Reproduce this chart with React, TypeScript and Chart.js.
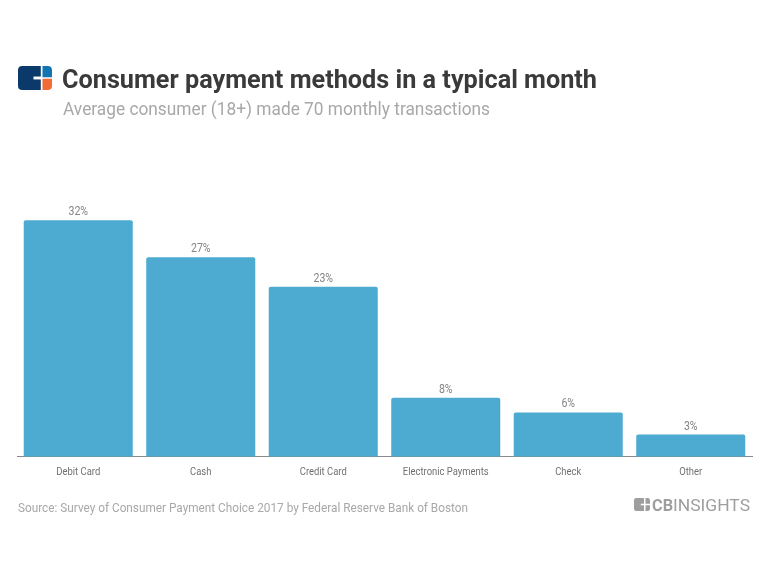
import React, { useEffect, useRef } from "react";
import { Chart, registerables } from "chart.js";

Chart.register(...registerables);

const categories = ["Debit Card", "Cash", "Credit Card", "Electronic Payments", "Check", "Other"];
const shares = [32, 27, 23, 8, 6, 3];

const TITLE = "Consumer payment methods in a typical month";
const SUBTITLE = "Average consumer (18+) made 70 monthly transactions";
const SOURCE = "Source: Survey of Consumer Payment Choice 2017 by Federal Reserve Bank of Boston";

const FONT = "Roboto, 'Noto Sans', sans-serif";

// Draws text squeezed horizontally; if targetWidth is set, the text is scaled to that width.
function drawNarrow(
  ctx: CanvasRenderingContext2D,
  text: string,
  x: number,
  y: number,
  font: string,
  color: string,
  align: CanvasTextAlign,
  sx: number,
  targetWidth?: number
) {
  ctx.save();
  ctx.font = font;
  ctx.fillStyle = color;
  ctx.textBaseline = "alphabetic";
  ctx.textAlign = align;
  let s = sx;
  if (targetWidth) s = targetWidth / ctx.measureText(text).width;
  ctx.translate(x, y);
  ctx.scale(s, 1);
  ctx.fillText(text, 0, 0);
  ctx.restore();
}

function roundRect(ctx: CanvasRenderingContext2D, x: number, y: number, w: number, h: number, r: number) {
  ctx.beginPath();
  ctx.moveTo(x + r, y);
  ctx.lineTo(x + w - r, y);
  ctx.quadraticCurveTo(x + w, y, x + w, y + r);
  ctx.lineTo(x + w, y + h - r);
  ctx.quadraticCurveTo(x + w, y + h, x + w - r, y + h);
  ctx.lineTo(x + r, y + h);
  ctx.quadraticCurveTo(x, y + h, x, y + h - r);
  ctx.lineTo(x, y + r);
  ctx.quadraticCurveTo(x, y, x + r, y);
  ctx.closePath();
}

// Brand mark: left block with a notch, right column split in two squares.
function drawMark(
  ctx: CanvasRenderingContext2D,
  x: number,
  y: number,
  w: number,
  h: number,
  main: string,
  topRight: string,
  bottomRight: string
) {
  const colW = w * 0.28;
  const gap = Math.max(1.5, w * 0.05);
  const leftW = w - colW - gap;
  const r = h * 0.18;
  ctx.save();
  ctx.fillStyle = main;
  roundRect(ctx, x, y, leftW + r, h, r);
  ctx.fill();
  // notch
  ctx.fillStyle = "#ffffff";
  const notchH = h * 0.12;
  ctx.fillRect(x + leftW * 0.68, y + h / 2 - notchH / 2, leftW * 0.32 + r + 1, notchH);
  ctx.fillRect(x + leftW, y - 1, gap + r, h + 2);
  const cx = x + leftW + gap;
  const halfH = (h - gap) / 2;
  ctx.fillStyle = topRight;
  ctx.beginPath();
  ctx.moveTo(cx, y);
  ctx.lineTo(cx + colW - r, y);
  ctx.quadraticCurveTo(cx + colW, y, cx + colW, y + r);
  ctx.lineTo(cx + colW, y + halfH);
  ctx.lineTo(cx, y + halfH);
  ctx.closePath();
  ctx.fill();
  ctx.fillStyle = bottomRight;
  ctx.beginPath();
  ctx.moveTo(cx, y + halfH + gap);
  ctx.lineTo(cx + colW, y + halfH + gap);
  ctx.lineTo(cx + colW, y + h - r);
  ctx.quadraticCurveTo(cx + colW, y + h, cx + colW - r, y + h);
  ctx.lineTo(cx, y + h);
  ctx.closePath();
  ctx.fill();
  ctx.restore();
}

const decorations = {
  id: "decorations",
  beforeDraw(chart: Chart) {
    const ctx = chart.ctx;
    ctx.save();
    ctx.fillStyle = "#ffffff";
    ctx.fillRect(0, 0, chart.width, chart.height);
    ctx.restore();

    drawMark(ctx, 18, 66, 34, 24, "#0b3a6a", "#1075b2", "#f26a36");
    drawNarrow(ctx, TITLE, 62, 88, `bold 26px ${FONT}`, "#3a3a3a", "left", 1, 535);
    drawNarrow(ctx, SUBTITLE, 63, 115, `18px ${FONT}`, "#a8a8a8", "left", 1, 427);
    drawNarrow(ctx, SOURCE, 18, 512, `13px ${FONT}`, "#a8a8a8", "left", 1, 450);

    // footer brand
    drawMark(ctx, 634, 498, 16, 13, "#9e9e9e", "#9e9e9e", "#9e9e9e");
    drawNarrow(ctx, "CB", 652, 511, `bold 17px ${FONT}`, "#9e9e9e", "left", 1, 21);
    drawNarrow(ctx, "INSIGHTS", 673, 511, `17px ${FONT}`, "#9e9e9e", "left", 1, 77);
  },
  afterDatasetsDraw(chart: Chart) {
    const ctx = chart.ctx;
    const meta = chart.getDatasetMeta(0);
    const xScale = chart.scales.x;
    meta.data.forEach((bar: any, i: number) => {
      drawNarrow(ctx, `${shares[i]}%`, bar.x, bar.y - 5, `12px ${FONT}`, "#858585", "center", 0.88);
    });
    categories.forEach((c, i) => {
      const x = xScale.getPixelForTick(i);
      drawNarrow(ctx, c, x, chart.chartArea.bottom + 18, `11.5px ${FONT}`, "#707070", "center", 0.82);
    });
  },
};

export default function App() {
  const ref = useRef<HTMLCanvasElement | null>(null);

  useEffect(() => {
    if (!ref.current) return;
    const chart = new Chart(ref.current, {
      type: "bar",
      data: {
        labels: categories,
        datasets: [
          {
            data: shares,
            backgroundColor: "#4daad1",
            borderRadius: { topLeft: 2, topRight: 2, bottomLeft: 0, bottomRight: 0 },
            borderSkipped: "bottom",
            categoryPercentage: 1,
            barPercentage: 0.89,
          },
        ],
      },
      options: {
        responsive: false,
        animation: false,
        layout: { padding: { left: 17, right: 16, top: 198, bottom: 84 } },
        plugins: { legend: { display: false }, tooltip: { enabled: false } },
        scales: {
          x: {
            grid: { display: false },
            border: { display: true, color: "#8a8a8a", width: 1 },
            ticks: { color: "rgba(0,0,0,0)", font: { size: 11, family: FONT }, padding: 7 },
          },
          y: { display: false, min: 0, max: 35 },
        },
      },
      plugins: [decorations],
    });
    return () => chart.destroy();
  }, []);

  return (
    <div style={{ position: "absolute", left: 0, top: 0, width: 768, height: 576, background: "#fff" }}>
      <canvas ref={ref} width={768} height={576} style={{ display: "block" }} />
    </div>
  );
}
